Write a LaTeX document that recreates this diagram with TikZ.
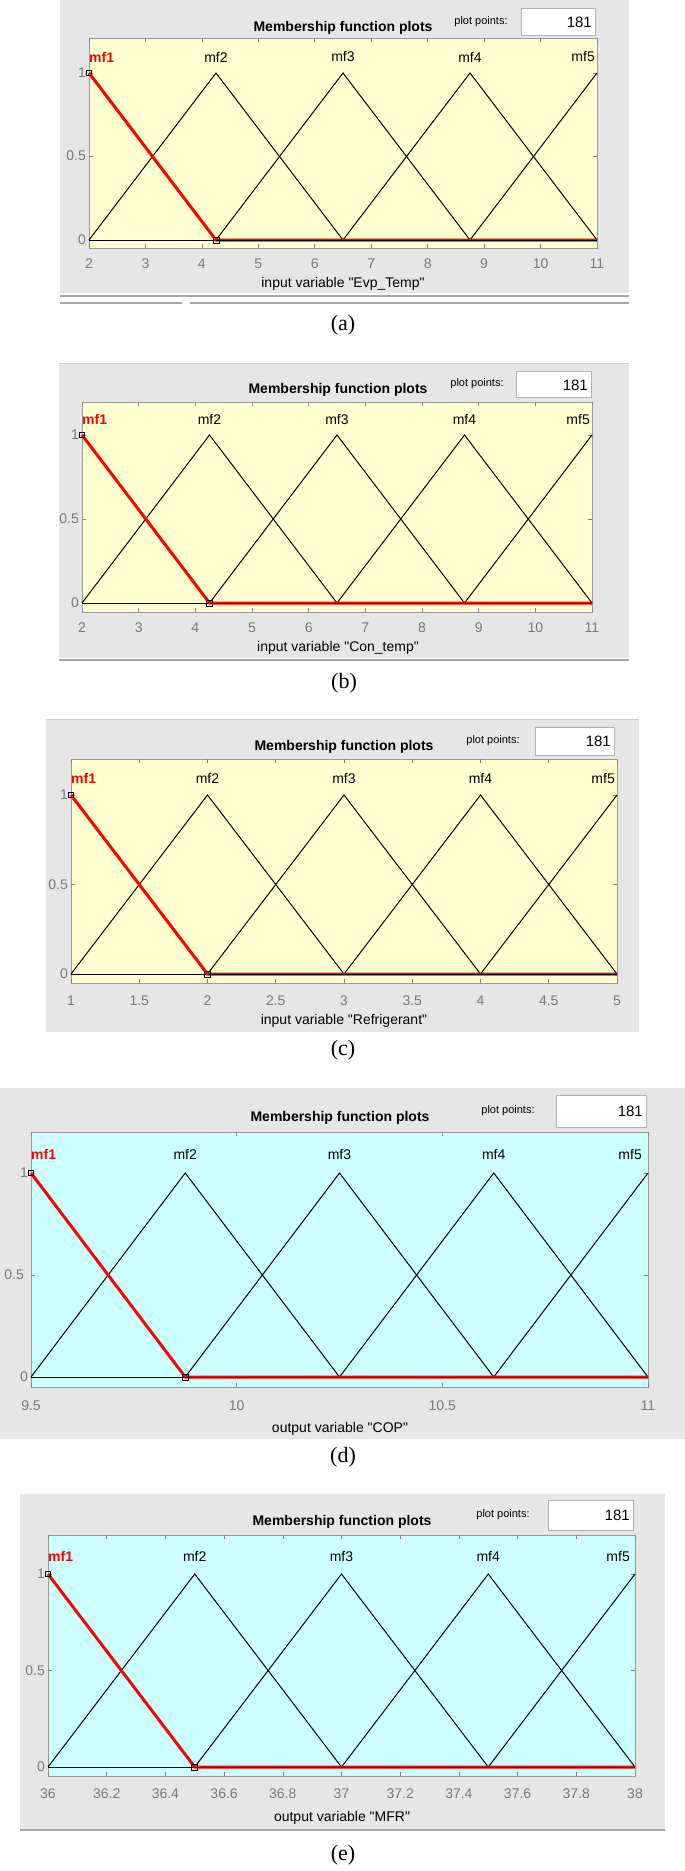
\documentclass[tikz,border=0pt]{standalone}
\usepackage{fontspec}
\setmainfont{Liberation Serif}
\newfontfamily\mlfont{Liberation Sans}
\definecolor{panelgray}{RGB}{230,230,230}
\definecolor{mlyellow}{RGB}{255,255,208}
\definecolor{mlcyan}{RGB}{204,255,255}
\definecolor{ticklab}{RGB}{120,120,120}
\definecolor{mlred}{RGB}{255,0,0}
\newcommand\mfcurves[4]{% L R Y1 Y0
  \pgfmathsetmacro\dd{(#2-#1)/4}
  \pgfmathsetmacro\xa{#1+\dd}\pgfmathsetmacro\xb{#1+2*\dd}\pgfmathsetmacro\xc{#1+3*\dd}
  \draw[mfline] (#1,#4)--(\xa,#3)--(\xb,#4)--(\xc,#3)--(#2,#4);
  \draw[mfline] (\xa,#4)--(\xb,#3)--(\xc,#4)--(#2,#3);
  \draw[mfline] (#1,#4)--(#2,#4);
  \draw[redline] (#1,#3)--(\xa,#4)--(#2,#4);
  \draw[mfline] (\xa,#4)--(#2,#4);
  \draw[marker] (#1-2.5,#3-2.5) rectangle (#1+2.5,#3+2.5);
  \draw[marker] (\xa-3,#4-3) rectangle (\xa+3,#4+3);
}
\newcommand\axesticks[7]{% L R T B Y1 Y0 n
  \pgfmathsetmacro\ym{(#5+#6)/2}
  \foreach \yy in {#5,\ym,#6}{
    \draw[tickline] (#1,\yy)--(#1+4,\yy); \draw[tickline] (#2,\yy)--(#2-4,\yy);}
  \foreach \k in {1,...,#7}{
    \pgfmathsetmacro\xx{#1+(#2-#1)*(\k-1)/(#7-1)}
    \draw[tickline] (\xx,#3)--(\xx,#3+4); \draw[tickline] (\xx,#4)--(\xx,#4-4);}
}
\begin{document}
\begin{tikzpicture}[x=1pt,y=-1pt,
  mfline/.style={black,line width=1pt},
  redline/.style={mlred,line width=3pt},
  marker/.style={black,line width=0.6pt},
  tickline/.style={gray,line width=0.6pt},
  titletxt/.style={font=\mlfont\bfseries\fontsize{14}{14}\selectfont,inner sep=0pt},
  pptxt/.style={font=\mlfont\fontsize{11}{11}\selectfont,inner sep=0pt},
  boxtxt/.style={font=\mlfont\fontsize{15}{15}\selectfont,inner sep=0pt},
  mftxt/.style={font=\mlfont\fontsize{14}{14}\selectfont,inner sep=0pt},
  mfred/.style={font=\mlfont\bfseries\fontsize{14}{14}\selectfont,inner sep=0pt,text=mlred},
  ticktxt/.style={font=\mlfont\fontsize{14}{14}\selectfont,inner sep=0pt,text=ticklab},
  labtxt/.style={font=\mlfont\fontsize{14}{14}\selectfont,inner sep=0pt},
  captxt/.style={font=\fontsize{22}{22}\selectfont,inner sep=0pt},
  plotframe/.style={draw=gray!80,line width=0.8pt},
  ppbox/.style={fill=white,draw=gray!60,line width=0.6pt}]
\useasboundingbox (0,0) rectangle (685,1871);
\fill[white] (0,0) rectangle (685,1871);

% ---------------- (a)
\fill[panelgray] (60,0) rectangle (629,293);
\draw[gray!70,line width=2pt] (60,296)--(629,296);
\draw[gray!70,line width=2pt] (60,303)--(182,303) (190,303)--(629,303);
\filldraw[fill=mlyellow,plotframe] (89,38) rectangle (597,248);
\axesticks{89}{597}{38}{248}{73}{240}{10}
\mfcurves{89}{597}{73}{240}
\node[titletxt] (aT) at (343,28) {Membership function plots};
\node[pptxt] (aP) at (481,22) {plot points:};
\draw[ppbox] (521,8) rectangle (595,35);
\node[boxtxt,anchor=east] (aB) at (592,22) {181};
\node[mfred,anchor=west] (am1) at (89,57) {mf1};
\foreach \i/\t in {2/mf2,3/mf3,4/mf4}{\node[mftxt] (am\i) at ({89+(597-89)*(\i-1)/4},57) {\t};}
\node[mftxt,anchor=east] (am5) at (595,57) {mf5};
\foreach \v [count=\k] in {2,3,4,5,6,7,8,9,10,11}{\node[ticktxt] (ax\k) at ({89+(597-89)*(\k-1)/9},264) {\v};}
\node[ticktxt,anchor=east] (ay1) at (86,73) {1};
\node[ticktxt,anchor=east] (ay2) at (86,156) {0.5};
\node[ticktxt,anchor=east] (ay3) at (86,240) {0};
\node[labtxt] (aL) at (343,284) {input variable "Evp\_Temp"};
\node[captxt] (aC) at (343,325) {(a)};

% ---------------- (b)
\fill[panelgray] (59,363) rectangle (629,658);
\draw[gray!40,line width=0.8pt] (59,363)--(629,363);
\draw[gray!70,line width=2.5pt] (59,660)--(629,660);
\filldraw[fill=mlyellow,plotframe] (82,402) rectangle (592,612);
\axesticks{82}{592}{402}{612}{435}{603}{10}
\mfcurves{82}{592}{435}{603}
\node[titletxt] (bT) at (338,390) {Membership function plots};
\node[pptxt] (bP) at (477,384) {plot points:};
\draw[ppbox] (516,371) rectangle (591,397);
\node[boxtxt,anchor=east] (bB) at (588,385) {181};
\node[mfred,anchor=west] (bm1) at (82,419) {mf1};
\foreach \i/\t in {2/mf2,3/mf3,4/mf4}{\node[mftxt] (bm\i) at ({82+(592-82)*(\i-1)/4},419) {\t};}
\node[mftxt,anchor=east] (bm5) at (590,419) {mf5};
\foreach \v [count=\k] in {2,3,4,5,6,7,8,9,10,11}{\node[ticktxt] (bx\k) at ({82+(592-82)*(\k-1)/9},628) {\v};}
\node[ticktxt,anchor=east] (by1) at (79,435) {1};
\node[ticktxt,anchor=east] (by2) at (79,519) {0.5};
\node[ticktxt,anchor=east] (by3) at (79,603) {0};
\node[labtxt] (bL) at (338,648) {input variable "Con\_temp"};
\node[captxt] (bC) at (344,683) {(b)};

% ---------------- (c)
\fill[panelgray] (46,719) rectangle (639,1032);
\draw[gray!40,line width=0.8pt] (46,719)--(639,719);
\filldraw[fill=mlyellow,plotframe] (71,759) rectangle (617,983);
\axesticks{71}{617}{759}{983}{795}{974}{9}
\mfcurves{71}{617}{795}{974}
\node[titletxt] (cT) at (344,747) {Membership function plots};
\node[pptxt] (cP) at (493,741) {plot points:};
\draw[ppbox] (535,727) rectangle (614,755);
\node[boxtxt,anchor=east] (cB) at (611,741) {181};
\node[mfred,anchor=west] (cm1) at (71,778) {mf1};
\foreach \i/\t in {2/mf2,3/mf3,4/mf4}{\node[mftxt] (cm\i) at ({71+(617-71)*(\i-1)/4},778) {\t};}
\node[mftxt,anchor=east] (cm5) at (615,778) {mf5};
\foreach \v [count=\k] in {1,1.5,2,2.5,3,3.5,4,4.5,5}{\node[ticktxt] (cx\k) at ({71+(617-71)*(\k-1)/8},1001) {\v};}
\node[ticktxt,anchor=east] (cy1) at (68,795) {1};
\node[ticktxt,anchor=east] (cy2) at (68,885) {0.5};
\node[ticktxt,anchor=east] (cy3) at (68,974) {0};
\node[labtxt] (cL) at (344,1021) {input variable "Refrigerant"};
\node[captxt] (cC) at (343,1050) {(c)};

% ---------------- (d)
\fill[panelgray] (0,1088) rectangle (685,1439);
\filldraw[fill=mlcyan,plotframe] (31,1132) rectangle (648,1387);
\axesticks{31}{648}{1132}{1387}{1173}{1377}{4}
\mfcurves{31}{648}{1173}{1377}
\node[titletxt] (dT) at (340,1118) {Membership function plots};
\node[pptxt] (dP) at (508,1111) {plot points:};
\draw[ppbox] (556,1095) rectangle (646,1127);
\node[boxtxt,anchor=east] (dB) at (643,1111) {181};
\node[mfred,anchor=west] (dm1) at (31,1154) {mf1};
\foreach \i/\t in {2/mf2,3/mf3,4/mf4}{\node[mftxt] (dm\i) at ({31+(648-31)*(\i-1)/4},1154) {\t};}
\node[mftxt,anchor=east] (dm5) at (642,1154) {mf5};
\foreach \v [count=\k] in {9.5,10,10.5,11}{\node[ticktxt] (dx\k) at ({31+(648-31)*(\k-1)/3},1406) {\v};}
\node[ticktxt,anchor=east] (dy1) at (28,1173) {1};
\node[ticktxt,anchor=east] (dy2) at (24,1275) {0.5};
\node[ticktxt,anchor=east] (dy3) at (28,1377) {0};
\node[labtxt] (dL) at (340,1429) {output variable "COP"};
\node[captxt] (dC) at (343,1457) {(d)};

% ---------------- (e)
\fill[panelgray] (20,1494) rectangle (665,1829);
\draw[gray!70,line width=2pt] (20,1830)--(665,1830);
\filldraw[fill=mlcyan,plotframe] (48,1535) rectangle (635,1776);
\axesticks{48}{635}{1535}{1776}{1574}{1767}{11}
\mfcurves{48}{635}{1574}{1767}
\node[titletxt] (eT) at (342,1522) {Membership function plots};
\node[pptxt] (eP) at (503,1515) {plot points:};
\draw[ppbox] (548,1500) rectangle (633,1530);
\node[boxtxt,anchor=east] (eB) at (630,1515) {181};
\node[mfred,anchor=west] (em1) at (48,1556) {mf1};
\foreach \i/\t in {2/mf2,3/mf3,4/mf4}{\node[mftxt] (em\i) at ({48+(635-48)*(\i-1)/4},1556) {\t};}
\node[mftxt,anchor=east] (em5) at (630,1556) {mf5};
\foreach \v [count=\k] in {36,36.2,36.4,36.6,36.8,37,37.2,37.4,37.6,37.8,38}{\node[ticktxt] (ex\k) at ({48+(635-48)*(\k-1)/10},1794) {\v};}
\node[ticktxt,anchor=east] (ey1) at (45,1574) {1};
\node[ticktxt,anchor=east] (ey2) at (45,1671) {0.5};
\node[ticktxt,anchor=east] (ey3) at (45,1767) {0};
\node[labtxt] (eL) at (342,1818) {output variable "MFR"};
\node[captxt] (eC) at (343,1855) {(e)};
\end{tikzpicture}
\end{document}
